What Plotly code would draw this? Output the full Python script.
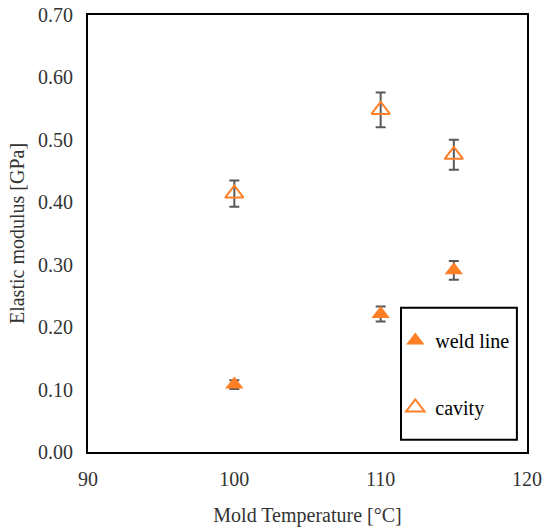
import plotly.graph_objects as go

# mold temperature [°C]
temps = [100, 110, 115]

# elastic modulus [GPa]
weld_line = [0.108, 0.221, 0.291]
weld_line_err = [0.007, 0.012, 0.015]
cavity = [0.414, 0.548, 0.476]
cavity_err = [0.021, 0.028, 0.024]

orange = '#FF7F27'
bar_grey = '#595959'
serif = 'Liberation Serif'

fig = go.Figure()
fig.add_trace(go.Scatter(
    x=temps, y=weld_line, mode='markers', name='weld line', legendgroup='a',
    marker=dict(symbol='triangle-up', size=16, color=orange),
    error_y=dict(type='data', array=weld_line_err, color=bar_grey, thickness=2, width=5)
))
fig.add_trace(go.Scatter(
    x=temps, y=cavity, mode='markers', name='cavity', legendgroup='b',
    marker=dict(symbol='triangle-up-open', size=16, color=orange, line=dict(width=2, color=orange)),
    error_y=dict(type='data', array=cavity_err, color=bar_grey, thickness=2, width=5)
))

axis_font = dict(family=serif, size=20, color='#333333')
fig.update_xaxes(range=[90, 120], dtick=10, showgrid=False, zeroline=False,
                 showline=True, mirror=True, linecolor='black', linewidth=2,
                 ticks='', tickfont=axis_font, automargin=False, ticklabelstandoff=8,
                 title=dict(text='Mold Temperature [°C]', font=axis_font, standoff=19))
fig.update_yaxes(range=[0, 0.7], dtick=0.1, tickformat='.2f', showgrid=False, zeroline=False,
                 showline=True, mirror=True, linecolor='black', linewidth=2,
                 ticks='', tickfont=axis_font, automargin=False, ticklabelstandoff=9,
                 title=dict(text='Elastic modulus [GPa]', font=axis_font, standoff=8))

# legend frame
fig.add_shape(type='rect', xref='paper', yref='paper', x0=0.713, x1=0.977, y0=0.028, y1=0.330,
              line=dict(color='black', width=2), fillcolor='white', layer='below')

fig.update_layout(
    width=550, height=531,
    margin=dict(l=88, r=23, t=15, b=79),
    plot_bgcolor='white', paper_bgcolor='white',
    legend=dict(x=0.70, y=0.30, xanchor='left', yanchor='top',
                borderwidth=0, bgcolor='rgba(0,0,0,0)',
                font=dict(family=serif, size=20, color='black'),
                traceorder='grouped', tracegroupgap=38, itemwidth=30),
)

fig.write_html("out.html", config={'displayModeBar': False},
               post_script="document.body.style.margin='0';")
